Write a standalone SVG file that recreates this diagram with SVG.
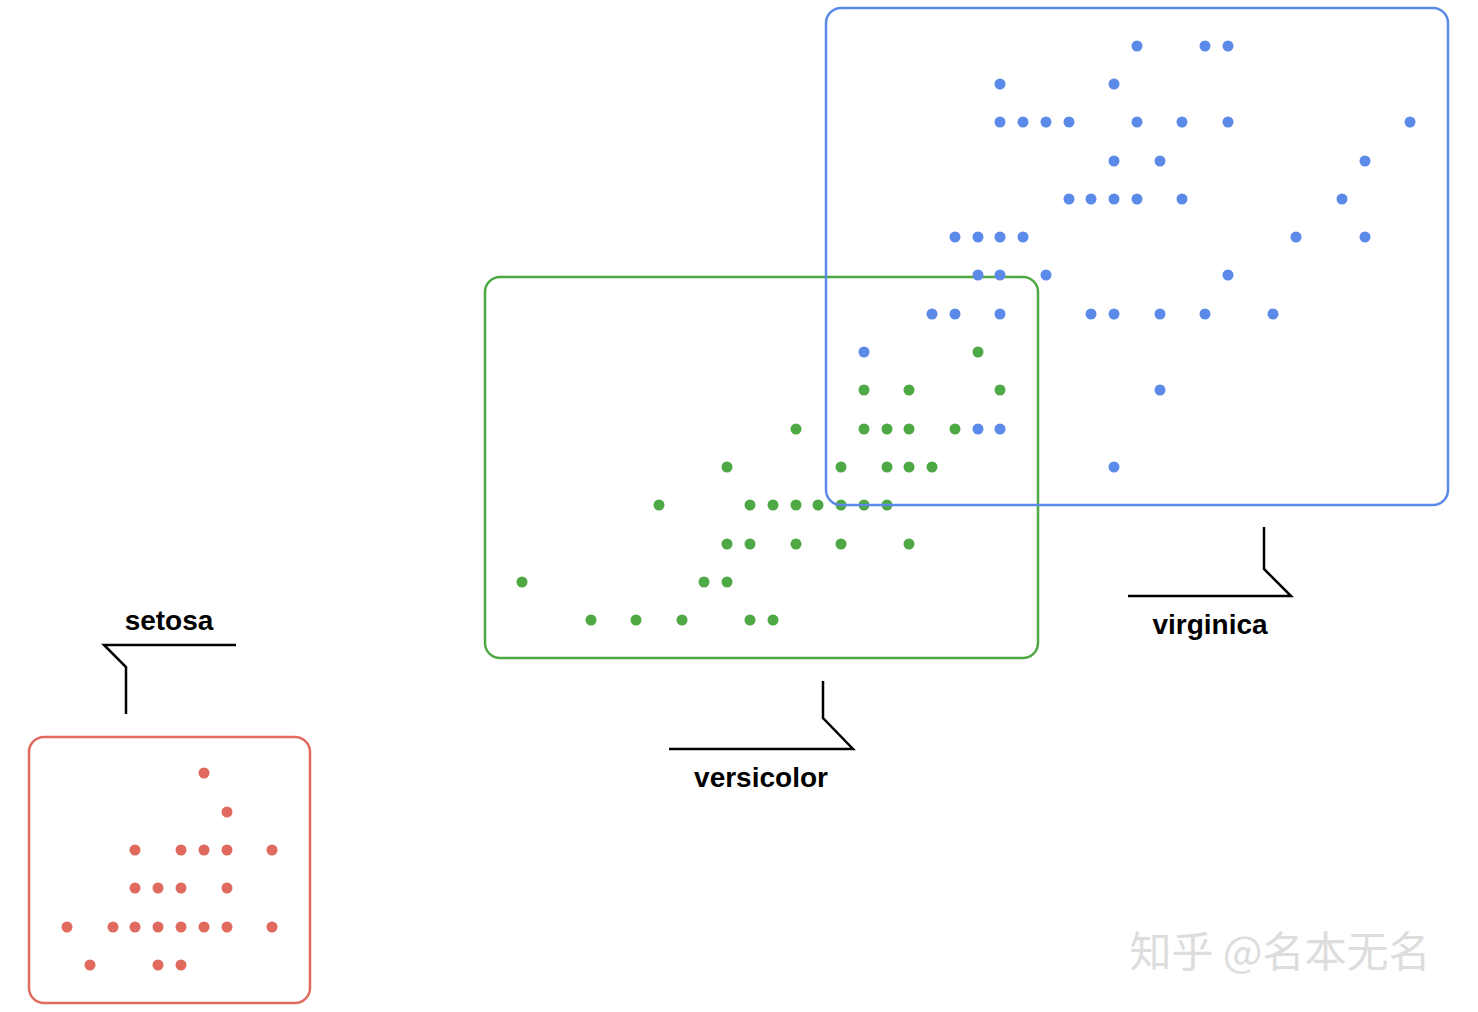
<svg xmlns="http://www.w3.org/2000/svg" width="1478" height="1012" viewBox="0 0 1478 1012">
<style>
.b{fill:#5b8ae8}.g{fill:#4ea843}.r{fill:#e06a5e}
.box{fill:none;stroke-width:2.5}
.lbl{font-family:"Liberation Sans",Arial,sans-serif;font-weight:bold;font-size:28px;fill:#000;text-anchor:middle}
.co{fill:none;stroke:#000;stroke-width:2.5}
</style>
<rect width="1478" height="1012" fill="#fff"/>
<g id="versicolor">
<rect class="box" x="485" y="277" width="553" height="381" rx="15" stroke="#4ea843"/>
<g class="g">
<circle cx="978" cy="352" r="5.5"/>
<circle cx="864" cy="390" r="5.5"/><circle cx="909" cy="390" r="5.5"/><circle cx="1000" cy="390" r="5.5"/>
<circle cx="796" cy="429" r="5.5"/><circle cx="864" cy="429" r="5.5"/><circle cx="887" cy="429" r="5.5"/><circle cx="909" cy="429" r="5.5"/><circle cx="955" cy="429" r="5.5"/>
<circle cx="727" cy="467" r="5.5"/><circle cx="841" cy="467" r="5.5"/><circle cx="887" cy="467" r="5.5"/><circle cx="909" cy="467" r="5.5"/><circle cx="932" cy="467" r="5.5"/>
<circle cx="659" cy="505" r="5.5"/><circle cx="750" cy="505" r="5.5"/><circle cx="773" cy="505" r="5.5"/><circle cx="796" cy="505" r="5.5"/><circle cx="818" cy="505" r="5.5"/><circle cx="841" cy="505" r="5.5"/><circle cx="864" cy="505" r="5.5"/><circle cx="887" cy="505" r="5.5"/>
<circle cx="727" cy="544" r="5.5"/><circle cx="750" cy="544" r="5.5"/><circle cx="796" cy="544" r="5.5"/><circle cx="841" cy="544" r="5.5"/><circle cx="909" cy="544" r="5.5"/>
<circle cx="522" cy="582" r="5.5"/><circle cx="704" cy="582" r="5.5"/><circle cx="727" cy="582" r="5.5"/>
<circle cx="591" cy="620" r="5.5"/><circle cx="636" cy="620" r="5.5"/><circle cx="682" cy="620" r="5.5"/><circle cx="750" cy="620" r="5.5"/><circle cx="773" cy="620" r="5.5"/>
</g>
<text class="lbl" x="761" y="787">versicolor</text>
</g>
<g id="virginica">
<rect class="box" x="826" y="8" width="622" height="497" rx="15" stroke="#5b8ae8"/>
<g class="b">
<circle cx="1137" cy="46" r="5.5"/><circle cx="1205" cy="46" r="5.5"/><circle cx="1228" cy="46" r="5.5"/>
<circle cx="1000" cy="84" r="5.5"/><circle cx="1114" cy="84" r="5.5"/>
<circle cx="1000" cy="122" r="5.5"/><circle cx="1023" cy="122" r="5.5"/><circle cx="1046" cy="122" r="5.5"/><circle cx="1069" cy="122" r="5.5"/><circle cx="1137" cy="122" r="5.5"/><circle cx="1182" cy="122" r="5.5"/><circle cx="1228" cy="122" r="5.5"/><circle cx="1410" cy="122" r="5.5"/>
<circle cx="1114" cy="161" r="5.5"/><circle cx="1160" cy="161" r="5.5"/><circle cx="1365" cy="161" r="5.5"/>
<circle cx="1069" cy="199" r="5.5"/><circle cx="1091" cy="199" r="5.5"/><circle cx="1114" cy="199" r="5.5"/><circle cx="1137" cy="199" r="5.5"/><circle cx="1182" cy="199" r="5.5"/><circle cx="1342" cy="199" r="5.5"/>
<circle cx="955" cy="237" r="5.5"/><circle cx="978" cy="237" r="5.5"/><circle cx="1000" cy="237" r="5.5"/><circle cx="1023" cy="237" r="5.5"/><circle cx="1296" cy="237" r="5.5"/><circle cx="1365" cy="237" r="5.5"/>
<circle cx="978" cy="275" r="5.5"/><circle cx="1000" cy="275" r="5.5"/><circle cx="1046" cy="275" r="5.5"/><circle cx="1228" cy="275" r="5.5"/>
<circle cx="932" cy="314" r="5.5"/><circle cx="955" cy="314" r="5.5"/><circle cx="1000" cy="314" r="5.5"/><circle cx="1091" cy="314" r="5.5"/><circle cx="1114" cy="314" r="5.5"/><circle cx="1160" cy="314" r="5.5"/><circle cx="1205" cy="314" r="5.5"/><circle cx="1273" cy="314" r="5.5"/>
<circle cx="864" cy="352" r="5.5"/>
<circle cx="1160" cy="390" r="5.5"/>
<circle cx="978" cy="429" r="5.5"/><circle cx="1000" cy="429" r="5.5"/>
<circle cx="1114" cy="467" r="5.5"/>
</g>
<text class="lbl" x="1210" y="634">virginica</text>
</g>
<g id="setosa">
<rect class="box" x="29" y="737" width="281" height="266" rx="15" stroke="#e06a5e"/>
<g class="r">
<circle cx="204" cy="773" r="5.5"/>
<circle cx="227" cy="812" r="5.5"/>
<circle cx="135" cy="850" r="5.5"/><circle cx="181" cy="850" r="5.5"/><circle cx="204" cy="850" r="5.5"/><circle cx="227" cy="850" r="5.5"/><circle cx="272" cy="850" r="5.5"/>
<circle cx="135" cy="888" r="5.5"/><circle cx="158" cy="888" r="5.5"/><circle cx="181" cy="888" r="5.5"/><circle cx="227" cy="888" r="5.5"/>
<circle cx="67" cy="927" r="5.5"/><circle cx="113" cy="927" r="5.5"/><circle cx="135" cy="927" r="5.5"/><circle cx="158" cy="927" r="5.5"/><circle cx="181" cy="927" r="5.5"/><circle cx="204" cy="927" r="5.5"/><circle cx="227" cy="927" r="5.5"/><circle cx="272" cy="927" r="5.5"/>
<circle cx="90" cy="965" r="5.5"/><circle cx="158" cy="965" r="5.5"/><circle cx="181" cy="965" r="5.5"/>
</g>
<text class="lbl" x="169" y="630">setosa</text>
</g>
<g id="connectors">
<path class="co" d="M126,714 V667 L104,645 H236"/>
<path class="co" d="M823,681 V718 L853,749 H669"/>
<path class="co" d="M1264,527 V569 L1291,596 H1128"/>
</g>
<text x="1280" y="967" font-family="'Noto Sans CJK SC',sans-serif" font-size="42" fill="#ddd" text-anchor="middle">知乎 @名本无名</text>
</svg>
